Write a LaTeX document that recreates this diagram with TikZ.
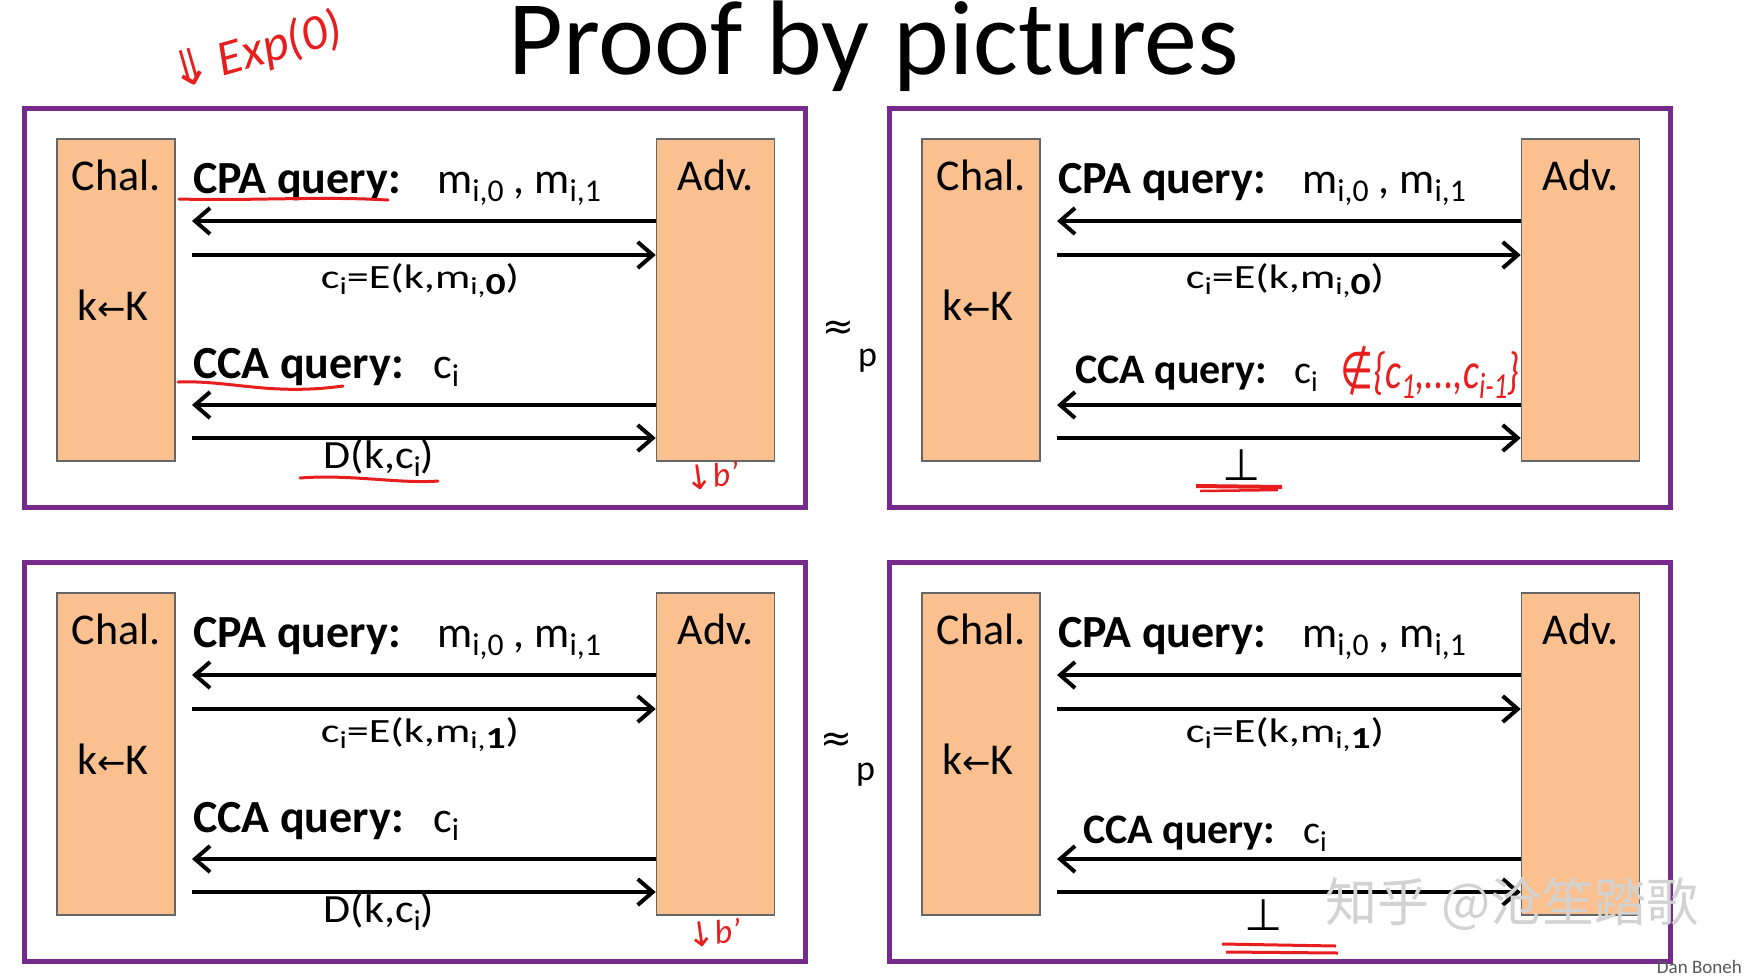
\documentclass[tikz,border=0pt]{standalone}
\usepackage{fontspec}
\setmainfont{Carlito}
\newfontfamily\cjkfont{Noto Sans CJK SC}
\newfontfamily\symfont{DejaVu Sans}
\usepackage{graphicx}
\usetikzlibrary{arrows.meta}
\definecolor{framepurple}{RGB}{118,42,140}
\definecolor{peach}{RGB}{250,192,144}
\definecolor{annot}{RGB}{232,30,30}
\newcommand{\mysub}[1]{\raisebox{-0.2em}{\scalebox{0.72}{#1}}}
\tikzset{
 frame/.style={draw=framepurple, line width=5pt, minimum width=781pt, minimum height=399pt, inner sep=0},
 partybox/.style={draw=black!60, line width=1.5pt, fill=peach, minimum width=118pt, minimum height=322pt, inner sep=0},
 lbl/.style={inner sep=0, font=\fontsize{44}{44}\selectfont},
 qlbl/.style={inner sep=0, font=\fontsize{46}{46}\selectfont\bfseries},
 elbl/.style={inner sep=0, font=\fontsize{34}{34}\selectfont},
 arr/.style={line width=4pt, -{Straight Barb[length=15pt,width=26pt]}},
 rednote/.style={inner sep=0, text=annot},
 redline/.style={draw=annot, line width=3pt, line cap=round},
}
% #1 prefix, #2 dx, #3 dy, #4 bit
\newcommand{\panelbase}[4]{%
\begin{scope}[shift={(#2,#3)}]
 \node[frame] (#1frame) at (415.3,307.5) {};
 \node[partybox] (#1chal) at (116,300) {};
 \node[partybox] (#1adv) at (715.5,300) {};
 \node[lbl, anchor=base] (#1chalt) at (116,190) {Chal.};
 \node[lbl, anchor=base] (#1key) at (113,320) {k{\symfont\fontsize{34}{34}\selectfont ←}K};
 \node[lbl, anchor=base] (#1advt) at (715.5,190) {Adv.};
 \node[qlbl, anchor=base west] (#1cpa) at (193,193) {CPA query:};
 \node[lbl, anchor=base west] (#1msg) at (437,193) {m\mysub{i,0} , m\mysub{i,1}};
 \coordinate (#1p1) at (192,221);
 \coordinate (#1p2) at (192,255);
 \coordinate (#1p3) at (192,405);
 \coordinate (#1p4) at (192,438);
 \draw[arr] (#1adv.west |- #1p1) -- (#1p1);
 \draw[arr] (#1p2) -- (#1adv.west |- #1p2);
 \draw[arr] (#1adv.west |- #1p3) -- (#1p3);
 \draw[arr] (#1p4) -- (#1adv.west |- #1p4);
 \node[elbl, anchor=base] (#1enc) at (420,288) {\scalebox{1.3}[1]{c\mysub{i}=E(k,m\mysub{i,\textbf{\scalebox{1.25}{#4}}})}};
\end{scope}}
\newcommand{\ccaleft}[3]{%
\begin{scope}[shift={(#2,#3)}]
 \node[qlbl, anchor=base west] (#1cca) at (193,378) {CCA query:};
 \node[lbl, anchor=base west] (#1ci) at (433,378) {c\mysub{i}};
 \node[inner sep=0, font=\fontsize{40}{40}\selectfont, anchor=base] (#1dec) at (379,468) {\scalebox{1.1}[1]{D(k,c\mysub{i})}};
\end{scope}}
\begin{document}
\begin{tikzpicture}[x=1pt,y=-1pt]
\fill[white] (0,0) rectangle (1750,978);
\useasboundingbox (0,0) rectangle (1750,978);
\node[anchor=base west, inner sep=0, font=\fontsize{106}{106}\selectfont] (title) at (508,74) {Proof by pictures};

\panelbase{tl}{0}{0}{0}
\panelbase{tr}{865}{0}{0}
\panelbase{bl}{0}{454}{1}
\panelbase{br}{865}{454}{1}
\ccaleft{tl}{0}{0}
\ccaleft{bl}{0}{454}

% right panels, CCA part
\node[inner sep=0, font=\fontsize{42}{42}\selectfont\bfseries, anchor=base west] (trcca) at (1075,383) {CCA query:};
\node[inner sep=0, font=\fontsize{40}{40}\selectfont, anchor=base west] (trci) at (1294,383) {c\mysub{i}};
\node[inner sep=0, font=\symfont\fontsize{44}{44}\selectfont, anchor=base] (trbot) at (1242,480) {⊥};
\node[inner sep=0, font=\fontsize{42}{42}\selectfont\bfseries, anchor=base west] (brcca) at (1083,843) {CCA query:};
\node[inner sep=0, font=\fontsize{40}{40}\selectfont, anchor=base west] (brci) at (1303,843) {c\mysub{i}};
\node[inner sep=0, font=\symfont\fontsize{44}{44}\selectfont, anchor=base] (brbot) at (1264,930) {⊥};

% approx p
\node[inner sep=0, font=\symfont\fontsize{38}{38}\selectfont] (ap1) at (838,330) {≈};
\node[inner sep=0, font=\fontsize{36}{36}\selectfont, anchor=base west] (p1) at (858,366) {p};
\node[inner sep=0, font=\symfont\fontsize{38}{38}\selectfont] (ap2) at (836,742) {≈};
\node[inner sep=0, font=\fontsize{36}{36}\selectfont, anchor=base west] (p2) at (856,780) {p};

% red annotations
\node[rednote, font=\fontsize{50}{50}\selectfont\itshape, rotate=16] (exp) at (256,52) {{\symfont\upshape ⇓}\,Exp(0)};
\draw[redline] (179,199) .. controls (250,201) and (320,196) .. (388,200);
\draw[redline] (178,382) .. controls (230,380) and (270,396) .. (343,386);
\draw[redline] (300,478) .. controls (350,474) and (400,484) .. (438,481);
\node[rednote, font=\fontsize{34}{34}\selectfont\itshape, rotate=8] (bout1) at (712,476) {{\symfont\upshape ↓}b'};
\node[rednote, font=\fontsize{34}{34}\selectfont\itshape, rotate=8] (bout2) at (714,933) {{\symfont\upshape ↓}b'};
\node[rednote, font=\fontsize{34}{34}\selectfont\itshape] (notin) at (1430,372) {\scalebox{1.12}[1.5]{{\symfont\upshape ∉}\{c\mysub{1},...,c\mysub{i-1}\}}};
\draw[annot, line width=4pt] (1196,486) -- (1282,487);
\draw[annot, line width=2.5pt] (1200,491) -- (1278,490);
\draw[annot, line width=3pt] (1222,944) -- (1336,946);
\draw[annot, line width=3pt] (1226,952) -- (1338,953);

% watermark and author
\node[inner sep=0, text=gray!35, font=\cjkfont\fontsize{52}{52}\selectfont] (wm) at (1512,904) {知乎 @沧笙踏歌};
\node[inner sep=0, anchor=base east, text=black!65, font=\fontsize{19}{19}\selectfont] (author) at (1742,973) {Dan Boneh};
\end{tikzpicture}
\end{document}
